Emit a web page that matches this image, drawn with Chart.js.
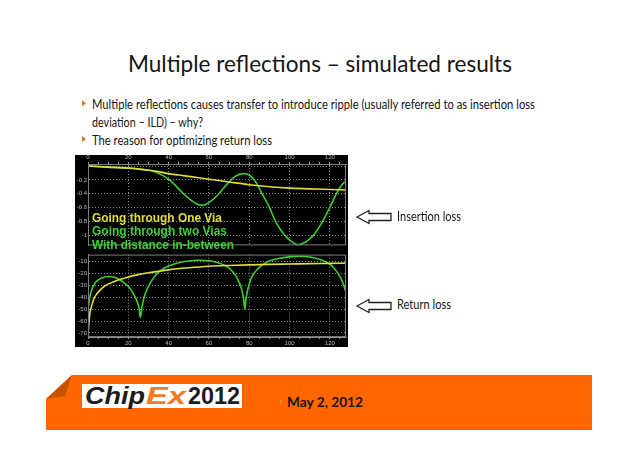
<!DOCTYPE html>
<html lang="en">
<head>
<meta charset="utf-8">
<title>Multiple reflections – simulated results</title>
<script src="https://cdn.jsdelivr.net/npm/chart.js@4.4.1/dist/chart.umd.min.js"></script>
<style>
  html, body { margin: 0; padding: 0; background: #fff; }
  #slide { position: relative; width: 638px; height: 451px; overflow: hidden; font-family: Lato, "Open Sans", sans-serif; color: #151515; }
  #shapes { position: absolute; left: 0; top: 0; }
  .txt { position: absolute; white-space: nowrap; transform-origin: 0 50%; }
  #plot { position: absolute; left: 75px; top: 155px; width: 273px; height: 192px; background: #000; }
  #plot canvas { position: absolute; left: 0; }
  .via { font-family: "Liberation Sans", Arial, sans-serif; font-weight: bold; font-size: 12.5px; line-height: 13px; }
  .logo { font-family: "Liberation Sans", Arial, sans-serif; font-weight: bold; font-size: 23px; line-height: 24px; }
</style>
</head>
<body>
<div id="slide">
  <svg id="shapes" width="638" height="451">
    <!-- bullets -->
    <polygon points="82,100 86,103.3 82,106.6" fill="#d9782c"/>
    <polygon points="82,135.7 86,139 82,142.3" fill="#d9782c"/>
    <!-- arrows -->
    <polygon points="357,217 369,210.5 369,213.5 391,213.5 391,220.5 369,220.5 369,223.5" fill="#fff" stroke="#222" stroke-width="1.3"/>
    <polygon points="357,306 369,299.5 369,302.5 391,302.5 391,309.5 369,309.5 369,312.5" fill="#fff" stroke="#222" stroke-width="1.3"/>
    <!-- footer band -->
    <polygon points="72,375 592,375 592,430 46,430 46,399" fill="#ff6600"/>
    <polygon points="46,399 72,375 65,396" fill="#c75200"/>
    <rect x="82" y="384" width="160" height="24" fill="#fff"/>
    <polygon points="280,399 283,401.5 280,404" fill="#e8873a"/>
  </svg>

  <div class="txt" style="left:128px; top:48px; font-size:24px; line-height:30px;" data-w="384">Multiple reflections – simulated results</div>

  <div class="txt" style="left:92px; top:95px; font-size:14px; line-height:17px;" data-w="443">Multiple reflections causes transfer to introduce ripple (usually referred to as insertion loss</div>
  <div class="txt" style="left:92px; top:113px; font-size:14px; line-height:17px;" data-w="111">deviation – ILD) – why?</div>
  <div class="txt" style="left:92px; top:130.5px; font-size:14px; line-height:17px;" data-w="180">The reason for optimizing return loss</div>

  <div id="plot">
    <canvas id="ilChart" width="273" height="95" style="top:0"></canvas>
    <canvas id="rlChart" width="273" height="97" style="top:95px"></canvas>
  </div>

  <div class="txt via" style="left:92px; top:211.8px; color:#e2dd3c;" data-w="130">Going through One Via</div>
  <div class="txt via" style="left:92px; top:225.2px; color:#41cf35;" data-w="135">Going through two Vias</div>
  <div class="txt via" style="left:92px; top:238.6px; color:#41cf35;" data-w="142">With distance in-between</div>

  <div class="txt" style="left:397px; top:208.5px; font-size:12.5px; line-height:16px;" data-w="64">Insertion loss</div>
  <div class="txt" style="left:397px; top:297px; font-size:12.5px; line-height:16px;" data-w="54">Return loss</div>

  <div class="txt logo" style="left:85px; top:384px; font-style:italic; color:#1c1c1c;" data-w="60">Chip</div>
  <div class="txt logo" style="left:146px; top:384px; font-style:italic; color:#f47a1f;" data-w="40">Ex</div>
  <div class="txt logo" style="left:188px; top:384px; color:#1c1c1c;" data-w="52">2012</div>

  <div class="txt" style="left:287px; top:393.5px; font-size:13.5px; line-height:17px; font-weight:bold;" data-w="76">May 2, 2012</div>
</div>

<script>
// 频率轴 (图上 0..128)
const xMin = 0;
const xMax = 128;
const xLabels = [0, 20, 40, 60, 80, 100, 120];

// 插入损耗 - 一个过孔
const ilOneViaX = [0, 10, 20, 30, 35, 40, 45, 50, 55, 60, 70, 80, 90, 100, 110, 120, 128];
const ilOneVia  = [0, -0.015, -0.03, -0.06, -0.08, -0.11, -0.13, -0.15, -0.17, -0.19, -0.23, -0.27, -0.3, -0.32, -0.33, -0.34, -0.345];

// 插入损耗 - 两个过孔 (有间距)
const ilTwoViasX = [0, 10, 20, 28, 32, 36, 40, 43, 47, 50, 54, 57, 60, 64, 67, 70, 73, 77, 80, 83, 86, 90, 93, 97, 100, 104, 108, 112, 116, 120, 124, 127, 128];
const ilTwoVias  = [0, -0.015, -0.03, -0.05, -0.07, -0.12, -0.19, -0.27, -0.39, -0.47, -0.55, -0.57, -0.53, -0.43, -0.33, -0.23, -0.15, -0.11, -0.13, -0.22, -0.38, -0.6, -0.8, -0.98, -1.07, -1.14, -1.1, -1.0, -0.82, -0.6, -0.36, -0.24, -0.23];

// 回波损耗 - 一个过孔
const rlOneViaX = [0, 0.5, 1, 2, 3, 4, 6, 8, 10, 15, 20, 25, 30, 40, 50, 60, 70, 80, 90, 100, 110, 120, 128];
const rlOneVia  = [-72, -60, -53, -46, -41, -38, -34, -31, -29, -25.5, -23, -21, -19.5, -17, -15.3, -14, -13.3, -12.8, -12.4, -12.1, -11.8, -11.6, -11.4];

// 回波损耗 - 两个过孔
const rlTwoViasX = [0, 0.5, 1, 2, 3, 4, 6, 8, 10, 12, 14, 16, 18, 20, 22, 24, 25.3, 26, 26.7, 28, 30, 32, 34, 37, 40, 45, 50, 55, 60, 64, 67, 70, 72, 74, 76, 77.2, 77.8, 78.4, 79.5, 81, 83, 86, 90, 95, 100, 105, 110, 114, 117, 120, 122, 124, 126, 127.5, 128];
const rlTwoVias  = [-50, -44, -39, -33, -29.5, -27, -24.5, -23.2, -22.6, -22.8, -23.8, -25.5, -28, -31, -35.5, -42, -49, -57, -49, -39, -31, -25, -20.5, -16.5, -13.8, -11, -9.6, -9, -9.3, -10.8, -12.6, -15.5, -19, -24, -32, -41, -50, -41, -32, -24, -18.5, -13.5, -9.6, -7.3, -6.1, -5.6, -6.2, -7.7, -9.6, -12.3, -15.5, -20, -26, -33, -36];

const YELLOW = '#e2dc3a';
const GREEN = '#3fcc33';
const GRID = '#8a8a8a';
const LABEL = '#bdbdbd';

Chart.defaults.font.family = '"Liberation Sans", Arial, sans-serif';
Chart.defaults.font.size = 6;

// 把两个数组拼成 {x, y}
function toPoints(xs, ys) {
    return xs.map((x, i) => ({ x: x, y: ys[i] }));
}

function lineSet(label, xs, ys, color) {
    return {
        label: label,
        data: toPoints(xs, ys),
        borderColor: color,
        borderWidth: 1.6,
        pointRadius: 0,
        cubicInterpolationMode: 'monotone',
        fill: false
    };
}

// 画图区的灰色边框
const framePlugin = {
    id: 'frame',
    afterDraw(chart) {
        const { ctx, chartArea: a } = chart;
        ctx.save();
        ctx.strokeStyle = '#7c7c7c';
        ctx.lineWidth = 1;
        ctx.strokeRect(a.left + 0.5, a.top + 0.5, a.right - a.left - 1, a.bottom - a.top - 1);
        ctx.restore();
    }
};

function xScale(position, height) {
    return {
        type: 'linear',
        position: position,
        min: xMin,
        max: xMax,
        ticks: {
            stepSize: 5,
            includeBounds: false,
            autoSkip: false,
            maxRotation: 0,
            color: LABEL,
            padding: 1,
            callback: v => xLabels.includes(v) ? String(v) : ''
        },
        grid: {
            color: ctx => ctx.tick && xLabels.includes(ctx.tick.value) ? GRID : 'rgba(0,0,0,0)',
            tickColor: '#9a9a9a',
            tickLength: 2
        },
        border: { color: GRID, dash: [1, 2] },
        afterFit: s => { s.height = height; }
    };
}

function yScale(min, max, step, fmt) {
    return {
        type: 'linear',
        min: min,
        max: max,
        ticks: {
            stepSize: step,
            includeBounds: false,
            color: LABEL,
            padding: 1,
            callback: fmt
        },
        grid: { color: GRID, tickLength: 0 },
        border: { color: GRID, dash: [1, 2] },
        afterFit: s => { s.width = 13; }
    };
}

function baseOptions(scales) {
    return {
        responsive: false,
        animation: false,
        devicePixelRatio: 1,
        layout: { padding: { left: 0, right: 2, top: 0, bottom: 0 } },
        plugins: { legend: { display: false }, tooltip: { enabled: false } },
        scales: scales
    };
}

// 上半部分: 插入损耗
new Chart(document.getElementById('ilChart'), {
    type: 'line',
    data: {
        datasets: [
            lineSet('One via', ilOneViaX, ilOneVia, YELLOW),
            lineSet('Two vias', ilTwoViasX, ilTwoVias, GREEN)
        ]
    },
    options: baseOptions({
        x: xScale('top', 9),
        y: yScale(-1.15, 0.03, 0.2, v => Math.abs(v) < 1e-9 ? '' : String(+v.toFixed(1)))
    }),
    plugins: [framePlugin]
});

// 下半部分: 回波损耗
new Chart(document.getElementById('rlChart'), {
    type: 'line',
    data: {
        datasets: [
            lineSet('One via', rlOneViaX, rlOneVia, YELLOW),
            lineSet('Two vias', rlTwoViasX, rlTwoVias, GREEN)
        ]
    },
    options: baseOptions({
        x: xScale('bottom', 10),
        y: yScale(-73.4, -4.2, 10, v => String(Math.round(v)))
    }),
    plugins: [framePlugin]
});

// 按原图宽度横向拉伸文字
function fitText() {
    document.querySelectorAll('[data-w]').forEach(el => {
        el.style.transform = 'none';
        const w = el.getBoundingClientRect().width;
        if (w > 0) el.style.transform = `scaleX(${(+el.dataset.w / w).toFixed(4)})`;
    });
}
fitText();
if (document.fonts && document.fonts.ready) document.fonts.ready.then(fitText);
</script>
</body>
</html>
